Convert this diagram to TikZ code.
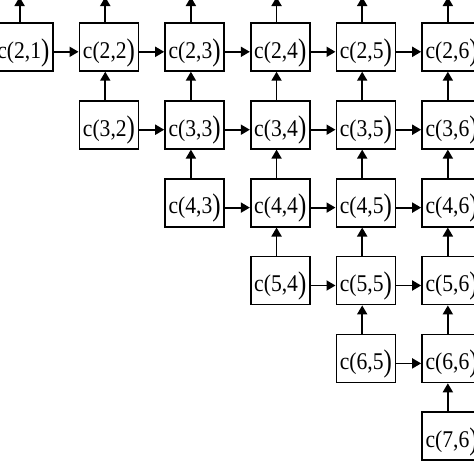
\documentclass[tikz,border=0pt]{standalone}
\usepackage{fontspec}
\setmainfont{Liberation Serif}
\usetikzlibrary{arrows.meta}
\newcommand\clbl[2]{\scalebox{0.9}[1]{c(#1,#2\raisebox{-1.9pt}{\scalebox{1.15}[1.3]{)}}}}
\tikzset{
  cell/.style={draw, line width=1.8pt, minimum width=59pt, minimum height=48pt,
    inner sep=0pt, text height=24pt, text depth=1.4pt,
    font=\fontsize{24}{24}\selectfont},
  link/.style={line width=1.8pt, -{Triangle[length=9pt,width=10pt]}}
}
\begin{document}
\begin{tikzpicture}[x=1pt,y=-1pt]
\useasboundingbox (0,0) rectangle (474,474);
\clip (0,0) rectangle (474,474);
% cells
\foreach \i in {2,...,7}{
  \pgfmathtruncatemacro\jstart{\i-1}
  \foreach \j in {\jstart,...,6}{
    \node[cell] (n\i\j) at ({23.3+85.65*(\j-1)},{46.8+77.9*(\i-2)}) {\clbl{\i}{\j}};
  }
}
% top free ends
\foreach \j in {1,...,6}{
  \coordinate (t\j) at ({23.3-3.7+85.65*(\j-1)},-3);
  \draw[link] ([xshift=-3.7pt]n2\j.north) -- (t\j);
}
% horizontal arrows
\foreach \i in {2,...,6}{
  \pgfmathtruncatemacro\jstart{\i-1}
  \foreach \j in {\jstart,...,5}{
    \pgfmathtruncatemacro\jn{\j+1}
    \draw[link] ([yshift=-5pt]n\i\j.east) -- ([yshift=-5pt]n\i\jn.west);
  }
}
% vertical arrows
\foreach \i in {3,...,7}{
  \pgfmathtruncatemacro\jstart{\i-1}
  \pgfmathtruncatemacro\ip{\i-1}
  \foreach \j in {\jstart,...,6}{
    \draw[link] ([xshift=-3.7pt]n\i\j.north) -- ([xshift=-3.7pt]n\ip\j.south);
  }
}
\end{tikzpicture}
\end{document}
